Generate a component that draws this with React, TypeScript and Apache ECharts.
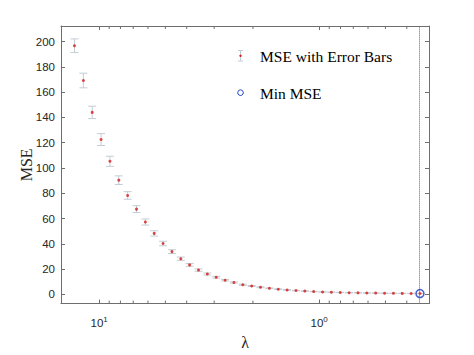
import React, { useEffect, useRef } from 'react';
import * as echarts from 'echarts';

const lambdas = [12.94, 11.79, 10.75, 9.796, 8.929, 8.139, 7.419, 6.763, 6.164, 5.618, 5.122, 4.668, 4.255, 3.879, 3.535, 3.222, 2.937, 2.677, 2.44, 2.224, 2.027, 1.848, 1.684, 1.535, 1.399, 1.275, 1.162, 1.059, 0.9656, 0.8802, 0.8023, 0.7313, 0.6665, 0.6075, 0.5538, 0.5047, 0.46, 0.4193, 0.3822, 0.3484];
const mse = [196.7, 169.2, 144.0, 122.5, 105.3, 90.4, 78.3, 67.5, 57.3, 48.3, 40.3, 33.9, 28.3, 23.4, 19.3, 16.2, 13.6, 11.3, 9.5, 7.7, 6.7, 5.7, 4.9, 4.2, 3.6, 3.1, 2.7, 2.3, 2.0, 1.8, 1.6, 1.4, 1.3, 1.2, 1.1, 1.0, 0.9, 0.85, 0.8, 0.75];
const mseErr = [5.4, 5.8, 4.9, 4.7, 4.0, 3.4, 3.0, 2.7, 2.4, 2.1, 1.8, 1.5, 1.3, 1.1, 0.95, 0.8, 0.7, 0.6, 0.5, 0.45, 0.4, 0.35, 0.3, 0.28, 0.25, 0.22, 0.2, 0.18, 0.16, 0.15, 0.14, 0.13, 0.12, 0.11, 0.1, 0.1, 0.1, 0.1, 0.1, 0.1];
const minLambda = 0.3484;
const minMse = 0.75;
const xMin = 0.317;
const xMax = 14.9;
const yMin = -7.2;
const yMax = 212.3;
const minorTicks = [0.4, 0.5, 0.6, 0.7, 0.8, 0.9, 2, 3, 4, 5, 6, 7, 8, 9];

const AXIS_COLOR = '#6e6e6e';
const LABEL_COLOR = '#262626';
const ERR_COLOR = '#c3cdd4';
const DOT_COLOR = '#d41c1c';
const SANS = '"Liberation Sans", Arial, sans-serif';
const SERIF = '"Liberation Serif", "Times New Roman", serif';

const isPow10 = (v: number) => {
  const l = Math.log10(v);
  return Math.abs(l - Math.round(l)) < 1e-6;
};

export default function App() {
  const ref = useRef<HTMLDivElement>(null);
  useEffect(() => {
    if (!ref.current) return;
    const chart = echarts.init(ref.current, undefined, { renderer: 'svg' });
    const axisLine = { show: true, onZero: false, lineStyle: { color: AXIS_COLOR, width: 1 } };
    const xBase = {
      type: 'log' as const,
      logBase: 10,
      min: xMin,
      max: xMax,
      inverse: true,
      axisLine,
      splitLine: { show: false },
      axisTick: { show: true, inside: true, length: 4, lineStyle: { color: AXIS_COLOR } },
    };
    const yBase = {
      type: 'value' as const,
      min: yMin,
      max: yMax,
      splitNumber: 11,
      axisLine,
      splitLine: { show: false },
      axisTick: { show: true, inside: true, length: 4, lineStyle: { color: AXIS_COLOR } },
    };
    const option: any = {
      animation: false,
      backgroundColor: '#ffffff',
      grid: { left: 61, top: 26, right: 45, bottom: 44, containLabel: false },
      xAxis: [
        {
          ...xBase,
          position: 'bottom',
          name: 'λ',
          nameLocation: 'middle',
          nameGap: 24,
          nameTextStyle: { fontFamily: SERIF, fontSize: 16, color: LABEL_COLOR },
          axisLabel: {
            show: true,
            margin: 12,
            color: LABEL_COLOR,
            formatter: (v: number) => (isPow10(v) ? `{b|10}{s|${Math.round(Math.log10(v))}}` : ''),
            rich: {
              b: { fontFamily: SANS, fontSize: 11.5, color: LABEL_COLOR },
              s: { fontFamily: SANS, fontSize: 8, color: LABEL_COLOR, padding: [0, 0, 7, 0] },
            },
          },
        },
        { ...xBase, position: 'top', axisLabel: { show: false } },
      ],
      yAxis: [
        {
          ...yBase,
          position: 'left',
          name: 'MSE',
          nameLocation: 'middle',
          nameRotate: 90,
          nameGap: 27,
          nameMoveOverlap: false,
          nameTextStyle: { fontFamily: SERIF, fontSize: 16, color: LABEL_COLOR },
          axisLabel: {
            show: true,
            margin: 6,
            color: LABEL_COLOR,
            fontFamily: SANS,
            fontSize: 11.5,
            formatter: (v: number) => (Math.abs(v / 20 - Math.round(v / 20)) < 1e-6 ? String(Math.round(v)) : ''),
          },
        },
        { ...yBase, position: 'right', axisLabel: { show: false } },
      ],
      graphic: [
        { type: 'line', shape: { x1: 240.5, y1: 50.5, x2: 240.5, y2: 61 }, style: { stroke: ERR_COLOR, lineWidth: 1 } },
        { type: 'line', shape: { x1: 238, y1: 50.5, x2: 243, y2: 50.5 }, style: { stroke: ERR_COLOR, lineWidth: 1 } },
        { type: 'line', shape: { x1: 238, y1: 61, x2: 243, y2: 61 }, style: { stroke: ERR_COLOR, lineWidth: 1 } },
        { type: 'circle', shape: { cx: 240.5, cy: 55.7, r: 1.2 }, style: { fill: DOT_COLOR } },
        { type: 'text', x: 260, y: 56, style: { text: 'MSE with Error Bars', font: `15.5px ${SERIF}`, fill: '#000', verticalAlign: 'middle' } },
        { type: 'circle', shape: { cx: 240.5, cy: 92.7, r: 2.8 }, style: { fill: 'none', stroke: '#1c3cc0', lineWidth: 1 } },
        { type: 'text', x: 260, y: 93, style: { text: 'Min MSE', font: `15.5px ${SERIF}`, fill: '#000', verticalAlign: 'middle' } },
      ],
      series: [
        {
          type: 'custom',
          name: 'minorTicks',
          silent: true,
          z: 5,
          data: minorTicks.map((v) => [v, 0]),
          encode: { x: 0, y: 1 },
          renderItem: (params: any, api: any) => {
            const p = api.coord([api.value(0), 0]);
            const cs = params.coordSys;
            const st = { stroke: AXIS_COLOR, lineWidth: 1 };
            return {
              type: 'group',
              children: [
                { type: 'line', shape: { x1: p[0], y1: cs.y, x2: p[0], y2: cs.y + 3 }, style: st },
                { type: 'line', shape: { x1: p[0], y1: cs.y + cs.height, x2: p[0], y2: cs.y + cs.height - 3 }, style: st },
              ],
            };
          },
        },
        {
          type: 'custom',
          name: 'errorBars',
          silent: true,
          z: 3,
          data: lambdas.map((l, i) => [l, mse[i] - mseErr[i], mse[i] + mseErr[i]]),
          encode: { x: 0, y: [1, 2] },
          renderItem: (params: any, api: any) => {
            const x = api.value(0);
            const top = api.coord([x, api.value(2)]);
            const bot = api.coord([x, api.value(1)]);
            const hw = 4;
            const st = { stroke: ERR_COLOR, lineWidth: 1 };
            return {
              type: 'group',
              children: [
                { type: 'line', shape: { x1: top[0], y1: top[1], x2: bot[0], y2: bot[1] }, style: st },
                { type: 'line', shape: { x1: top[0] - hw, y1: top[1], x2: top[0] + hw, y2: top[1] }, style: st },
                { type: 'line', shape: { x1: bot[0] - hw, y1: bot[1], x2: bot[0] + hw, y2: bot[1] }, style: st },
              ],
            };
          },
        },
        {
          type: 'scatter',
          name: 'MSE with Error Bars',
          z: 4,
          symbol: 'circle',
          symbolSize: 3,
          itemStyle: { color: DOT_COLOR },
          data: lambdas.map((l, i) => [l, mse[i]]),
        },
        {
          type: 'scatter',
          name: 'Min MSE',
          z: 6,
          symbol: 'circle',
          symbolSize: 8,
          itemStyle: { color: 'rgba(0,0,0,0)', borderColor: '#1c3cc0', borderWidth: 1.5 },
          data: [[minLambda, minMse]],
          markLine: {
            silent: true,
            symbol: ['none', 'none'],
            label: { show: false },
            lineStyle: { type: 'dotted', color: '#3a5fd8', width: 1 },
            data: [{ xAxis: minLambda }],
          },
        },
      ],
    };
    chart.setOption(option);
    return () => chart.dispose();
  }, []);
  return <div ref={ref} style={{ position: 'fixed', left: 0, top: 0, width: 474, height: 355 }} />;
}
